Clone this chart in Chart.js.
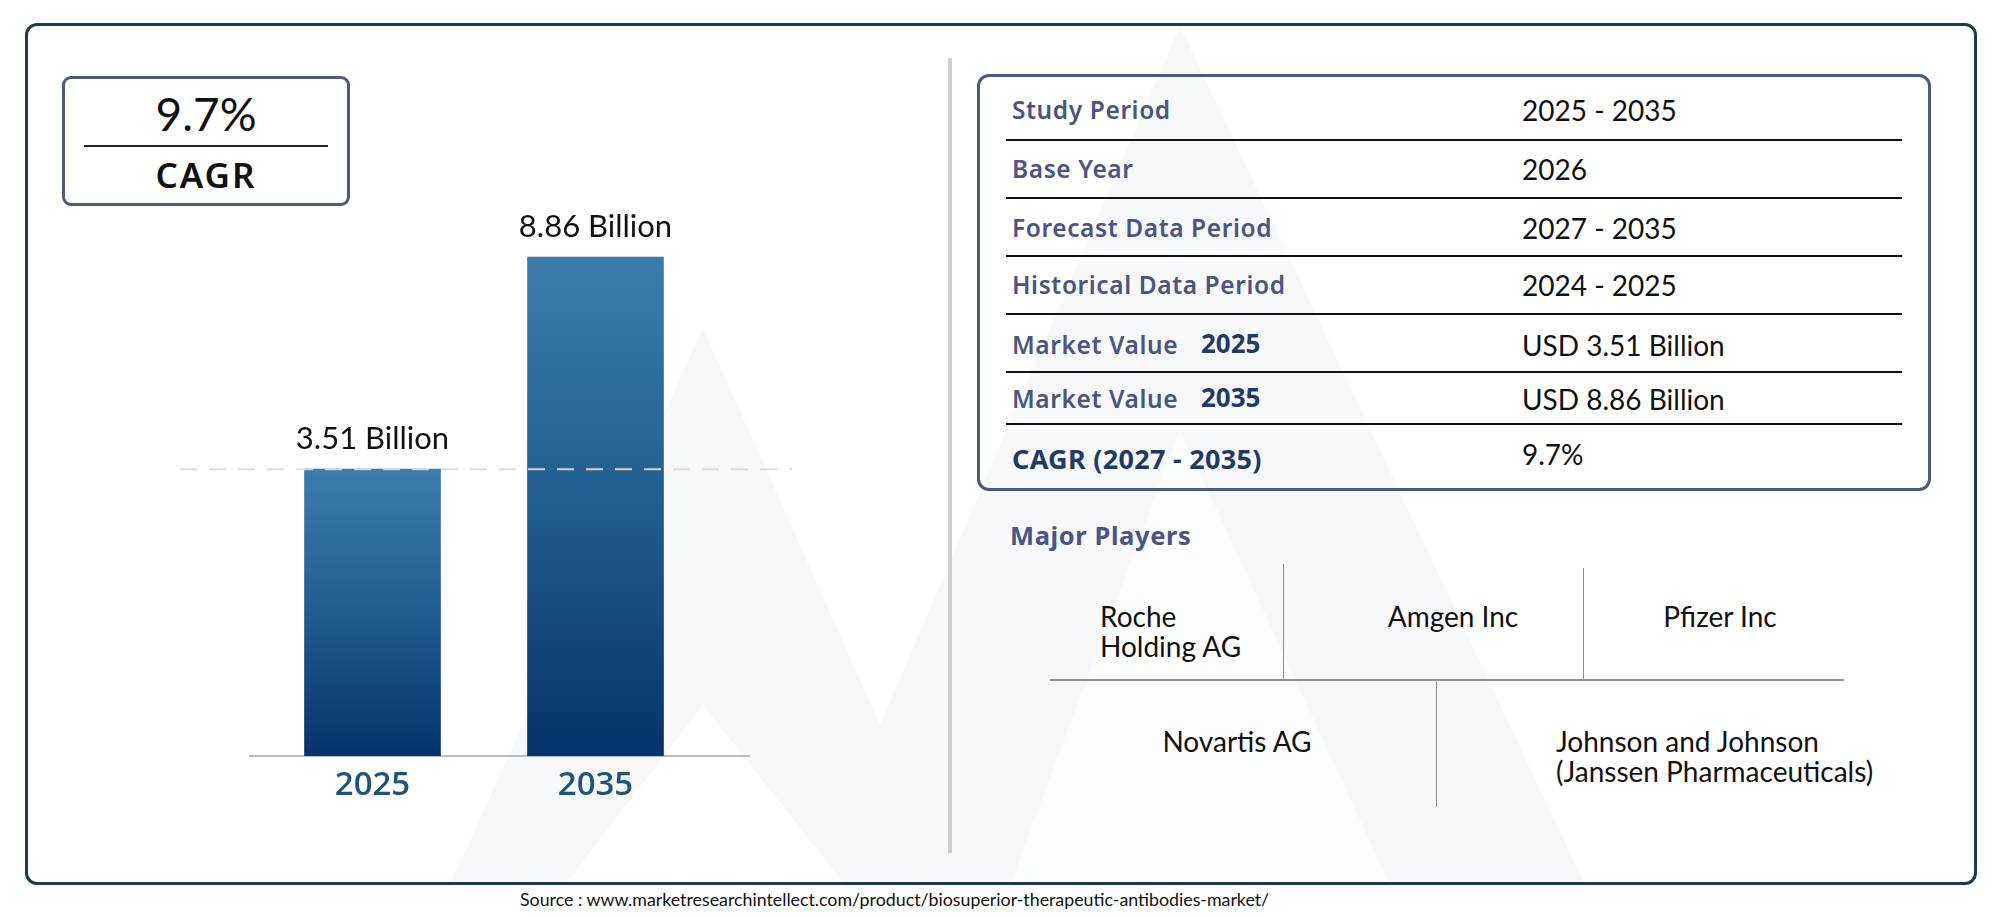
<!DOCTYPE html>
<html>
<head>
<meta charset="utf-8">
<script src="https://cdn.jsdelivr.net/npm/chart.js@4"></script>
<style>
  html, body { margin: 0; padding: 0; background: #fff; }
  body { width: 2000px; height: 917px; position: relative; overflow: hidden; font-family: "Lato", sans-serif; }
  .abs { position: absolute; white-space: nowrap; }
  #frame { left: 25px; top: 23px; width: 1946px; height: 856px; border: 3.5px solid #1c3b4d; border-radius: 12px; }
  #cagrBox { left: 62px; top: 76px; width: 282px; height: 124px; border: 3px solid #4d5a7a; border-radius: 9px; }
  #divider { left: 948px; top: 58px; width: 4px; height: 795px; background: #cfcfcf; }
  #tableBox { left: 977px; top: 74px; width: 948px; height: 411px; border: 3px solid #4d5a7a; border-radius: 12px; }
  .rowLine { position: absolute; left: 1006px; width: 896px; height: 2px; background: #111; }
  .lbl { font-family: "Noto Sans", sans-serif; font-weight: 600; font-size: 24.5px; letter-spacing: 0.6px; color: #4b5483; transform: translateY(-50%); }
  .yr { font-family: "Noto Sans", sans-serif; font-weight: 700; font-size: 26px; color: #1f3a68; transform: translateY(-50%); }
  .val { font-size: 28px; color: #111; transform: translateY(-50%); }
  .player { font-size: 28px; color: #111; line-height: 30px; transform: translateY(-50%); }
  .gline { position: absolute; background: #8f8f8f; }
</style>
</head>
<body>
<svg class="abs" style="left:0;top:0" width="2000" height="917">
  <polygon points="450,885 703,328 880,725 1180,26 1585,885" fill="#f6f8fa"/>
  <polygon points="565,885 703,705 845,885" fill="#ffffff"/>
  <polygon points="1010,885 1180,430 1390,885" fill="#fcfdfd"/>
</svg>
<div id="frame" class="abs"></div>
<div id="cagrBox" class="abs"></div>
<div class="abs" id="cagrValue" style="left:62px;width:288px;top:86px;text-align:center;font-size:46px;color:#111;"></div>
<div class="abs" style="left:84px;top:145px;width:244px;height:1.5px;background:#222;"></div>
<div class="abs" style="left:62px;width:288px;top:151px;text-align:center;font-family:'Noto Sans',sans-serif;font-weight:600;font-size:35px;letter-spacing:2px;color:#111;">CAGR</div>
<div id="divider" class="abs"></div>
<div id="tableBox" class="abs"></div>
<div id="table"></div>
<div class="abs lbl" style="left:1010px;top:535px;font-weight:700;font-size:25.5px;">Major Players</div>
<div id="players"></div>
<div class="abs" id="source" style="left:520px;top:888px;font-size:17.8px;color:#111;"></div>
<canvas id="barChart" class="abs" width="620" height="680" style="left:180px;top:150px;"></canvas>
<script>
const years = ['2025', '2035'];
const marketValues = [3.51, 8.86];
const cagr = '9.7%';
const axisMin = -3.73;
const axisMax = 10.05;

const infoLabels = ['Study Period', 'Base Year', 'Forecast Data Period', 'Historical Data Period', 'Market Value', 'Market Value', 'CAGR (2027 - 2035)'];
const infoYears = ['', '', '', '', '2025', '2035', ''];
const infoValues = ['2025 - 2035', '2026', '2027 - 2035', '2024 - 2025', 'USD 3.51 Billion', 'USD 8.86 Billion', '9.7%'];

const playersTop = ['Roche<br>Holding AG', 'Amgen Inc', 'Pfizer Inc'];
const playersBottom = ['Novartis AG', 'Johnson and Johnson<br>(Janssen Pharmaceuticals)'];
const sourceText = 'Source : www.marketresearchintellect.com/product/biosuperior-therapeutic-antibodies-market/';

document.getElementById('cagrValue').textContent = cagr;
document.getElementById('source').textContent = sourceText;

// info table
const rowY = [109, 168, 227, 284, 344, 398, 458];
const lineY = [139, 197, 255, 313, 371, 423];
let html = '';
infoLabels.forEach((l, i) => {
    let style = `left:1012px;top:${rowY[i]}px;`;
    if (i === 6) style += 'color:#1f3a68;font-weight:700;font-size:27px;letter-spacing:0.3px;';
    html += `<div class="abs lbl" style="${style}">${l}</div>`;
    if (infoYears[i]) html += `<div class="abs yr" style="left:1201px;top:${rowY[i] - 1}px;">${infoYears[i]}</div>`;
    html += `<div class="abs val" style="left:1522px;top:${rowY[i] + (i === 6 ? -4 : 1)}px;">${infoValues[i]}</div>`;
});
lineY.forEach(y => { html += `<div class="rowLine" style="top:${y}px;"></div>`; });
document.getElementById('table').innerHTML = html;

// players grid
let ph = '';
ph += '<div class="gline" style="left:1050px;top:679px;width:794px;height:1.5px;"></div>';
ph += '<div class="gline" style="left:1283px;top:564px;width:1px;height:115px;"></div>';
ph += '<div class="gline" style="left:1583px;top:568px;width:1px;height:111px;"></div>';
ph += '<div class="gline" style="left:1436px;top:680px;width:1px;height:127px;"></div>';
ph += `<div class="abs player" style="left:1100px;top:631px;">${playersTop[0]}</div>`;
ph += `<div class="abs player" style="left:1353px;width:200px;text-align:center;top:616px;">${playersTop[1]}</div>`;
ph += `<div class="abs player" style="left:1620px;width:200px;text-align:center;top:616px;">${playersTop[2]}</div>`;
ph += `<div class="abs player" style="left:1137px;width:200px;text-align:center;top:741px;">${playersBottom[0]}</div>`;
ph += `<div class="abs player" style="left:1556px;top:756px;">${playersBottom[1]}</div>`;
document.getElementById('players').innerHTML = ph;

function barGradient(context) {
    const chart = context.chart;
    const { ctx, chartArea, scales } = chart;
    if (!chartArea) return '#1a4f80';
    const v = context.raw;
    const top = scales.y.getPixelForValue(v);
    const bottom = scales.y.getPixelForValue(axisMin);
    const g = ctx.createLinearGradient(0, top, 0, bottom);
    g.addColorStop(0, '#3b7eab');
    g.addColorStop(0.5, '#215d8e');
    g.addColorStop(1, '#06336a');
    return g;
}

const decorations = {
    id: 'decorations',
    beforeDatasetsDraw(chart) {
        const { ctx, chartArea } = chart;
        ctx.save();
        ctx.strokeStyle = '#a8a8a8';
        ctx.lineWidth = 1.5;
        ctx.beginPath();
        ctx.moveTo(69, chartArea.bottom);
        ctx.lineTo(570, chartArea.bottom);
        ctx.stroke();
        ctx.restore();
    },
    afterDatasetsDraw(chart) {
        const { ctx, scales } = chart;
        const y = scales.y.getPixelForValue(marketValues[0]);
        ctx.save();
        ctx.strokeStyle = 'rgba(215,219,224,0.95)';
        ctx.lineWidth = 2;
        ctx.setLineDash([17, 12]);
        ctx.beginPath();
        ctx.moveTo(0, y);
        ctx.lineTo(612, y);
        ctx.stroke();
        ctx.setLineDash([]);
        // value labels
        ctx.fillStyle = '#111';
        ctx.font = '31px Lato';
        ctx.textAlign = 'center';
        ctx.textBaseline = 'middle';
        chart.getDatasetMeta(0).data.forEach((bar, i) => {
            ctx.fillText(marketValues[i] + ' Billion', bar.x, bar.y - 30);
        });
        ctx.restore();
    }
};

new Chart(document.getElementById('barChart'), {
    type: 'bar',
    data: {
        labels: years,
        datasets: [{
            data: marketValues,
            base: axisMin,
            backgroundColor: barGradient,
            barThickness: 136,
            borderWidth: 0
        }]
    },
    options: {
        responsive: false,
        devicePixelRatio: 1,
        animation: false,
        layout: { padding: { left: 81, right: 93, top: 60, bottom: 14 } },
        plugins: { legend: { display: false }, tooltip: { enabled: false } },
        scales: {
            x: {
                grid: { display: false },
                border: { display: false },
                afterFit: s => { s.height = 60; },
                ticks: {
                    padding: 2,
                    color: '#1e5577',
                    font: { family: 'Open Sans', weight: '600', size: 33 }
                }
            },
            y: { display: false, min: axisMin, max: axisMax }
        }
    },
    plugins: [decorations]
});
</script>
</body>
</html>
